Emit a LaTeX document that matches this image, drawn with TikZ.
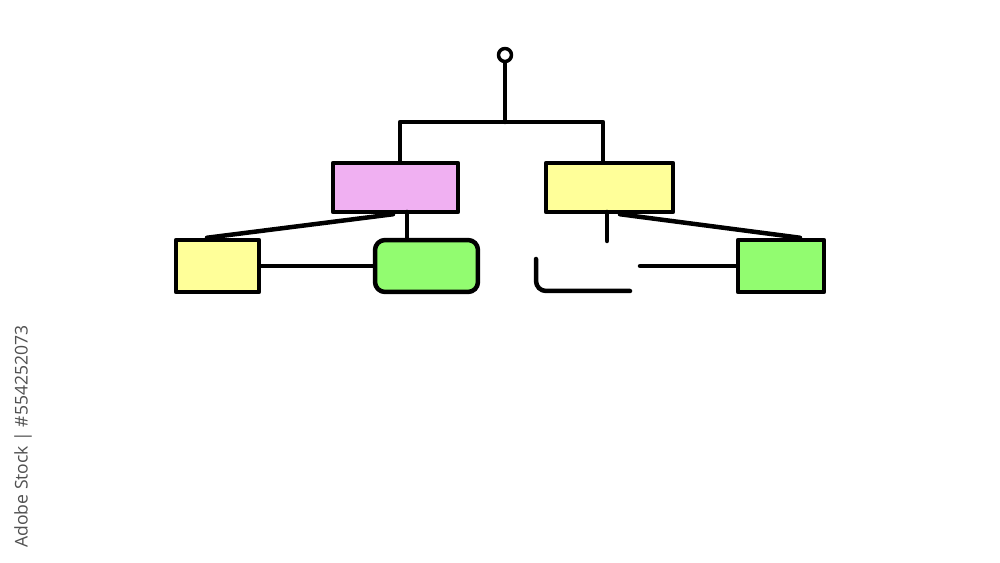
\documentclass[tikz,border=0pt]{standalone}
\usepackage{fontspec}
\setsansfont{Open Sans}
\usetikzlibrary{positioning}

\definecolor{pinkbox}{RGB}{240,176,242}
\definecolor{yellowbox}{RGB}{255,255,153}
\definecolor{greenbox}{RGB}{146,252,112}
\definecolor{stockgray}{RGB}{80,80,80}

\tikzset{
    box/.style={draw=black, line width=0.09cm, inner sep=0pt},
    link/.style={line width=0.09cm, line cap=round}
}

\begin{document}
\begin{tikzpicture}[x=0.02cm,y=-0.02cm,line join=round]

    % white page with the reference proportions
    \useasboundingbox[fill=white] (0,0) rectangle (1000,563);

    % root of the tree
    \node[draw, line width=0.07cm, circle, minimum size=0.26cm, inner sep=0pt] (root) at (505,55) {};

    % first level
    \node[box, fill=pinkbox, minimum width=2.5cm, minimum height=0.98cm] (pink) at (395.5,187.5) {};
    \node[box, fill=yellowbox, minimum width=2.54cm, minimum height=0.98cm] (yel) at (609.5,187.5) {};

    % second level
    \node[box, fill=yellowbox, minimum width=1.66cm, minimum height=1.04cm] (ylw) at (217.5,266) {};
    \node[box, fill=greenbox, rounded corners=0.2cm, minimum width=2.06cm, minimum height=1.04cm] (grn) at (426.5,266) {};
    \node[box, fill=greenbox, minimum width=1.72cm, minimum height=1.04cm] (grr) at (781,266) {};

    % split under the root
    \coordinate (split) at (505,122);
    \coordinate (bl) at (400,122);
    \coordinate (br) at (603,122);
    \draw[link] (root) -- (split);
    \draw[link] (pink.north -| bl) -- (bl) -- (br) -- (yel.north -| br);

    % left branch
    \draw[link] ([xshift=-0.05cm]pink.south) -- ([xshift=-0.21cm]ylw.north);
    \coordinate (pv) at (407,212);
    \draw[link] (pv) -- (pv |- grn.north);
    \draw[link] (ylw.east) -- (grn.west);

    % right branch
    \coordinate (yv) at (607,212);
    \coordinate (yend) at (607,241);
    \draw[link] (yv) -- (yend);
    \draw[link] ([xshift=0.21cm]yel.south) -- ([xshift=0.38cm]grr.north);
    \coordinate (ltop) at (536,259);
    \coordinate (lend) at (630,291);
    \draw[link, rounded corners=0.2cm] (ltop) |- (lend);
    \coordinate (hstart) at (640,266);
    \draw[link] (hstart) -- (grr.west);

    % stock label on the left edge
    \node[rotate=90, text=stockgray, font=\sffamily\fontsize{10}{12}\selectfont] (stock) at (23,436.5) {Adobe Stock | \#554252073};

\end{tikzpicture}
\end{document}
